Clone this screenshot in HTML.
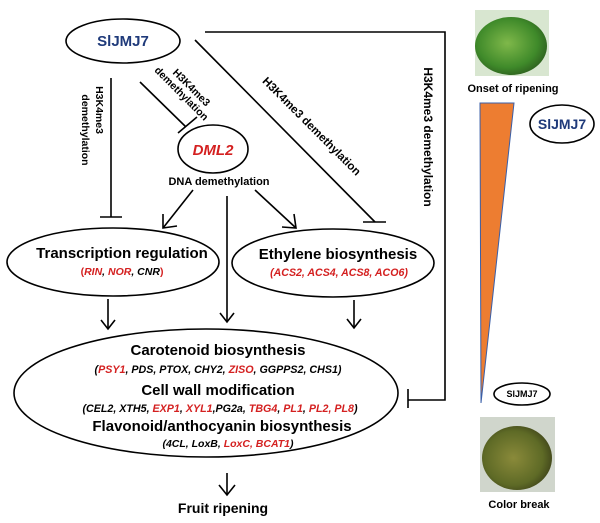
<!DOCTYPE html>
<html><head><meta charset="utf-8"><style>
html,body{margin:0;padding:0;background:#fff;}
svg{display:block;font-family:"Liberation Sans",Arial,sans-serif;font-weight:bold;}
.r{fill:#d42020}
</style></head><body>
<svg width="600" height="523" viewBox="0 0 600 523">
<defs>
<radialGradient id="g1" cx="45%" cy="45%" r="60%"><stop offset="0" stop-color="#7fb84a"/><stop offset="0.7" stop-color="#3f8a2a"/><stop offset="1" stop-color="#2d5e1e"/></radialGradient>
<radialGradient id="g2" cx="45%" cy="50%" r="60%"><stop offset="0" stop-color="#8a8a3a"/><stop offset="0.7" stop-color="#5e6a26"/><stop offset="1" stop-color="#3b3f18"/></radialGradient>
</defs>
<rect x="475" y="10" width="74" height="66" fill="#d8e6d0"/>
<ellipse cx="511" cy="46" rx="36" ry="29" fill="url(#g1)"/>
<rect x="480" y="417" width="75" height="75" fill="#d0d6cc"/>
<ellipse cx="517" cy="458" rx="35" ry="32" fill="url(#g2)"/>
<polygon points="480,103 514,103 481,403" fill="#ed7d31" stroke="#3a5fa8" stroke-width="1"/>
<g stroke="#000" stroke-width="1.6" fill="none">
<ellipse cx="123" cy="41" rx="57" ry="22"/>
<polyline points="205,32 445,32 445,400 408,400"/>
<line x1="408" y1="389" x2="408" y2="408"/>
<line x1="195" y1="40" x2="375" y2="222"/>
<line x1="363" y1="222" x2="386" y2="222"/>
<line x1="111" y1="78" x2="111" y2="217"/>
<line x1="100" y1="217" x2="122" y2="217"/>
<line x1="140" y1="82" x2="186" y2="127"/>
<line x1="178" y1="133" x2="197" y2="117"/>
<ellipse cx="213" cy="149" rx="35" ry="24"/>
<line x1="193" y1="190" x2="163" y2="228"/><polyline points="163,214 163,228 177,226"/>
<line x1="255" y1="190" x2="296" y2="228"/><polyline points="282,227 296,228 294,214"/>
<line x1="227" y1="196" x2="227" y2="322"/><polyline points="220,313 227,322 234,313"/>
<ellipse cx="113" cy="262" rx="106" ry="34"/>
<ellipse cx="333" cy="263" rx="101" ry="34"/>
<line x1="108" y1="299" x2="108" y2="329"/><polyline points="101,320 108,329 115,320"/>
<line x1="354" y1="300" x2="354" y2="328"/><polyline points="347,319 354,328 361,319"/>
<ellipse cx="206" cy="393" rx="192" ry="64"/>
<line x1="227" y1="473" x2="227" y2="495"/><polyline points="219,485 227,495 235,485"/>
<ellipse cx="562" cy="124" rx="32" ry="19"/>
<ellipse cx="522" cy="394" rx="28" ry="11"/>
</g>
<g font-size="12" text-anchor="middle">
<text x="123" y="46" font-size="15" fill="#1f3a7a">SlJMJ7</text>
<text x="562" y="129" font-size="14" fill="#1f3a7a">SlJMJ7</text>
<text x="522" y="397" font-size="9">SlJMJ7</text>
<text x="213" y="155" font-size="15" fill="#d42020" font-style="italic">DML2</text>
<text x="219" y="185" font-size="11">DNA  demethylation</text>
<text x="122" y="258" font-size="15">Transcription regulation</text>
<text x="122" y="275" font-size="10.5" font-style="italic"><tspan fill="#d42020" font-style="normal">(</tspan><tspan class="r">RIN</tspan>, <tspan class="r">NOR</tspan>, CNR<tspan fill="#d42020" font-style="normal">)</tspan></text>
<text x="338" y="259" font-size="15">Ethylene biosynthesis</text>
<text x="339" y="276" font-size="10.6" font-style="italic" class="r">(ACS2, ACS4, ACS8, ACO6)</text>
<text x="218" y="355" font-size="15">Carotenoid biosynthesis</text>
<text x="218" y="373" font-size="10.7" font-style="italic">(<tspan class="r">PSY1</tspan>, PDS, PTOX, CHY2, <tspan class="r">ZISO</tspan>, GGPPS2, CHS1)</text>
<text x="218" y="395" font-size="15">Cell wall modification</text>
<text x="220" y="412" font-size="10.7" font-style="italic">(CEL2, XTH5, <tspan class="r">EXP1</tspan>, <tspan class="r">XYL1</tspan>,PG2a, <tspan class="r">TBG4</tspan>, <tspan class="r">PL1</tspan>, <tspan class="r">PL2, PL8</tspan>)</text>
<text x="222" y="431" font-size="15">Flavonoid/anthocyanin biosynthesis</text>
<text x="228" y="447" font-size="10.5" font-style="italic">(4CL, LoxB, <tspan class="r">LoxC, BCAT1</tspan>)</text>
<text x="223" y="513" font-size="14">Fruit ripening</text>
<text x="513" y="92" font-size="11">Onset of ripening</text>
<text x="519" y="508" font-size="11">Color break</text>
<g font-size="10.5">
<text transform="translate(96,110) rotate(90)">H3K4me3</text>
<text transform="translate(82,130) rotate(90)">demethylation</text>
<text transform="translate(189,90) rotate(45)">H3K4me3</text>
<text transform="translate(179,96) rotate(45)">demethylation</text>
<text transform="translate(309,129) rotate(45)" font-size="11.5">H3K4me3 demethylation</text>
<text transform="translate(424,137) rotate(90)" font-size="12">H3K4me3 demethylation</text>
</g>
</g>
</svg>
</body></html>
